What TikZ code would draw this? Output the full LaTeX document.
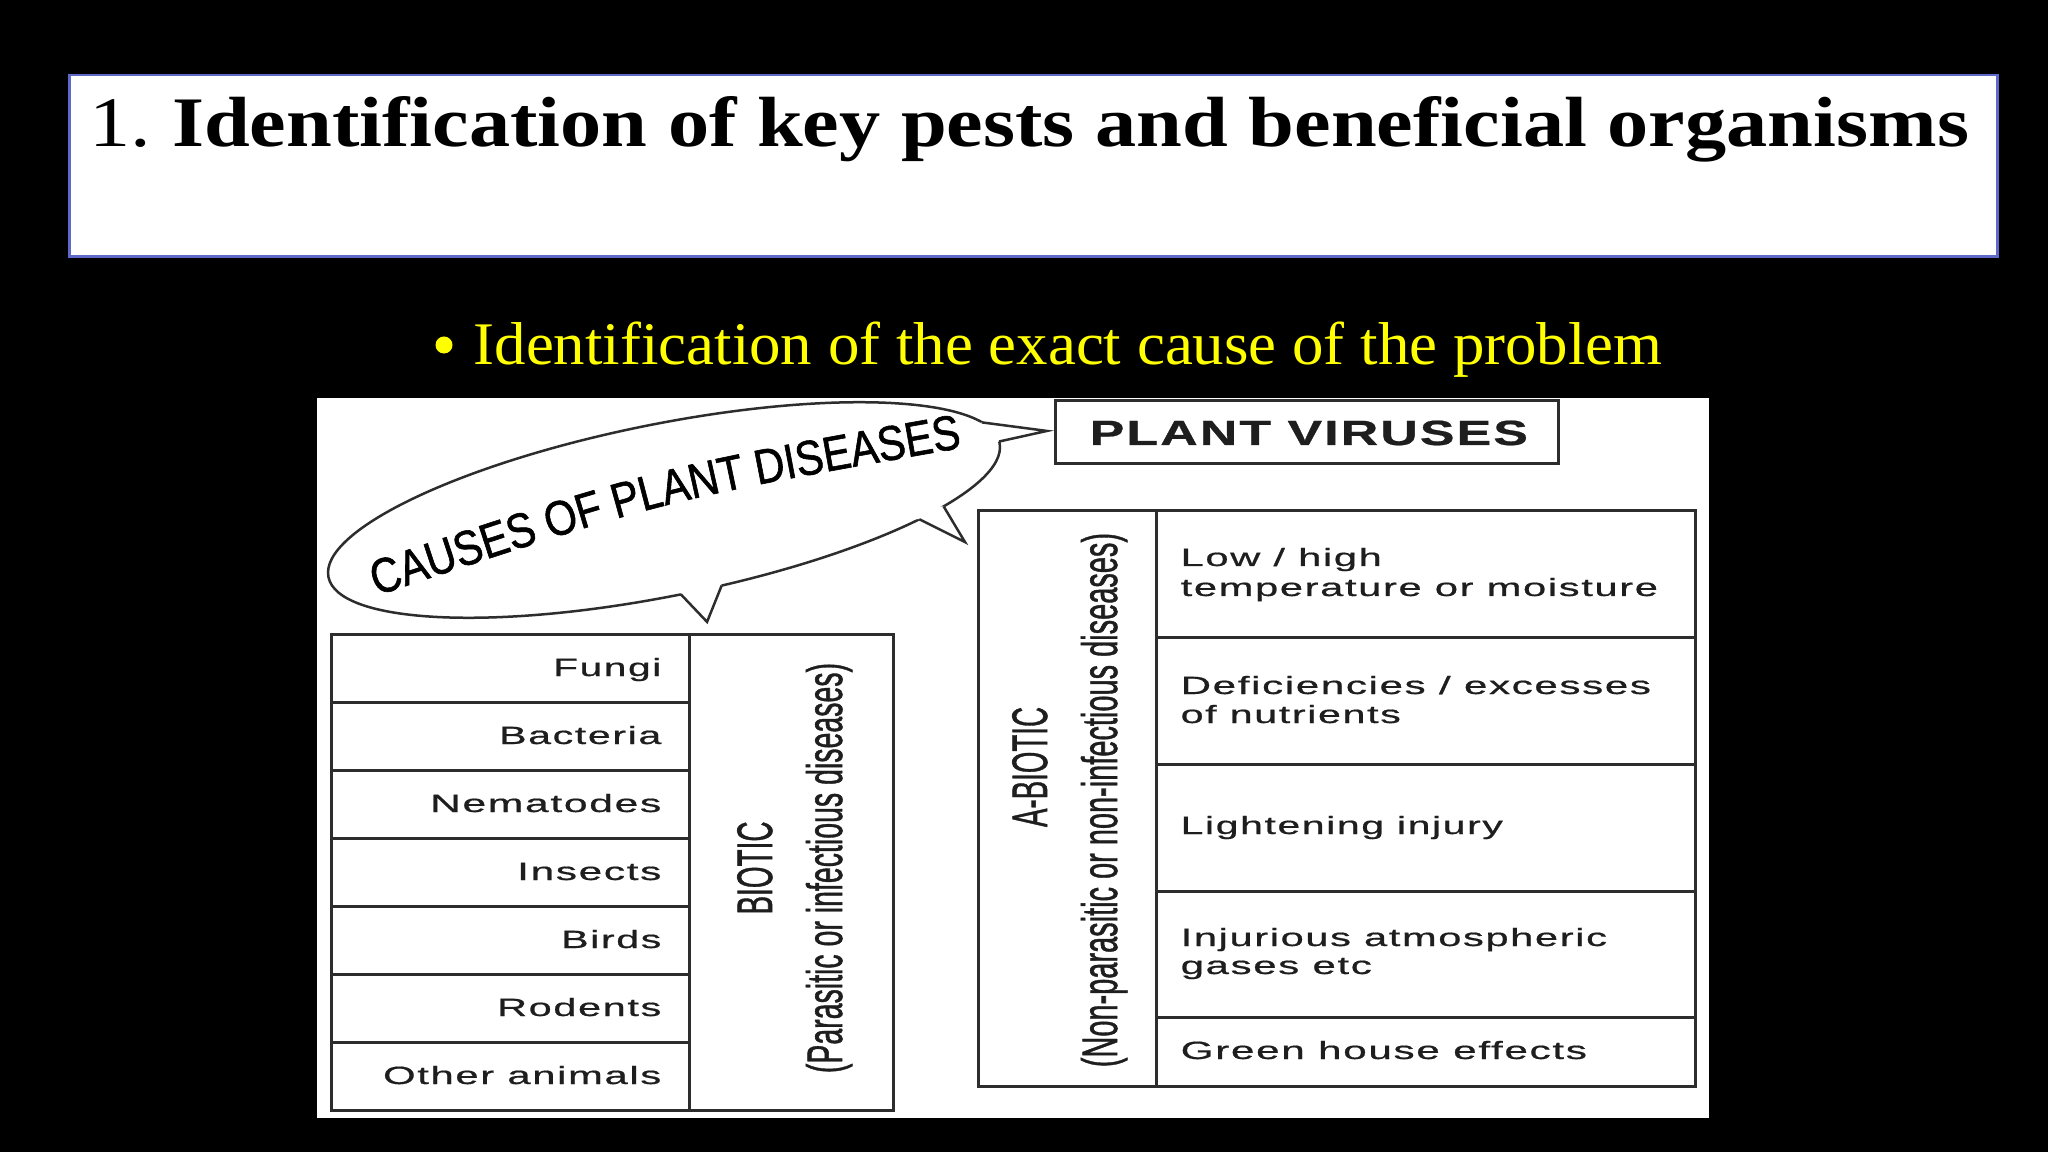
\documentclass[tikz,border=0pt]{standalone}
\usepackage{fontspec}
\usepackage{graphicx}
\setmainfont{Liberation Serif}
\newfontfamily\arialf{Liberation Sans}[FakeBold=1.2]
\newfontfamily\ellf{Liberation Sans}[FakeStretch=0.85, FakeBold=1.2]
\newfontfamily\widef{Liberation Sans}[LetterSpace=4, FakeBold=0.6]
\usetikzlibrary{shapes.geometric,decorations.text}
\definecolor{subyellow}{RGB}{255,255,0}
\definecolor{boxblue}{RGB}{95,105,200}
\definecolor{lin}{RGB}{45,45,45}
\definecolor{txt}{RGB}{30,30,30}
\newcommand{\fitw}[2]{\resizebox{#1}{\height}{#2}}
\newcommand{\tabfont}{\widef\fontsize{7.1pt}{8.5pt}\selectfont}
\newcommand{\pvfont}{\widef\bfseries\fontsize{9.96pt}{12pt}\selectfont}
\newcommand{\rotfont}{\arialf\fontsize{14.2pt}{17pt}\selectfont}
\newcommand{\ellfont}{\ellf\fontsize{13.9pt}{16pt}\selectfont}
\begin{document}
\begin{tikzpicture}[x=0.01cm,y=-0.01cm,
  cell/.style={draw=lin, line width=0.028cm, fill=white, inner sep=0, anchor=north west},
  lab/.style={inner sep=0, text=txt},
  tail/.style={draw=lin, line width=0.025cm, line join=miter}]
\fill[black] (0,0) rectangle (2048,1152);
\useasboundingbox (0,0) rectangle (2048,1152);

% title
\node[draw=boxblue, line width=0.025cm, fill=white, inner sep=0, minimum width=19.27cm, minimum height=1.81cm, anchor=north west] (titlebox) at (68,74) {};
\node[inner sep=0, anchor=base west, text=black] (title) at (89,147) {\fitw{18.78cm}{\fontsize{20.2pt}{24pt}\selectfont 1.\kern0.25em\textbf{Identification of key pests and beneficial organisms}}};

% subtitle
\node[circle, fill=subyellow, minimum size=0.17cm, inner sep=0] (bullet) at (444,345) {};
\node[inner sep=0, anchor=base west, text=subyellow] (sub) at (473,365) {\fitw{11.88cm}{\fontsize{17.2pt}{20pt}\selectfont Identification of the exact cause of the problem}};

% panel
\node[fill=white, inner sep=0, minimum width=13.91cm, minimum height=7.20cm, anchor=north west] (panel) at (316,397) {};

% left table
\foreach \i/\t/\w in {0/Fungi/1.08cm, 1/Bacteria/1.62cm, 2/Nematodes/2.31cm, 3/Insects/1.44cm, 4/Birds/1.00cm, 5/Rodents/1.64cm, 6/Other animals/2.78cm}{
  \node[cell, minimum width=3.58cm, minimum height=0.68cm] (lc\i) at (330,{633+68*\i}) {};
  \node[lab, anchor=base east] (lt\i) at (662,{633+68*\i+43}) {\tabfont\fitw{\w}{\t}};
}
\node[cell, minimum width=2.04cm, minimum height=4.76cm] (bcol) at (688,633) {};
\node[lab, rotate=90, anchor=base] (biotic) at (772,868) {\rotfont\fitw{0.93cm}{BIOTIC}};
\node[lab, rotate=90, anchor=base] (bioticsub) at (842,868) {\rotfont\fitw{4.10cm}{(Parasitic or infectious diseases)}};

% right table
\node[cell, minimum width=1.78cm, minimum height=5.76cm] (acol) at (977,509) {};
\node[lab, rotate=90, anchor=base] (abiotic) at (1047,767) {\rotfont\fitw{1.20cm}{A-BIOTIC}};
\node[lab, rotate=90, anchor=base] (abioticsub) at (1117,800) {\rotfont\fitw{5.34cm}{(Non-parasitic or non-infectious diseases)}};
\node[cell, minimum width=5.39cm, minimum height=1.27cm] (rc1) at (1155,509) {};
\node[cell, minimum width=5.39cm, minimum height=1.27cm] (rc2) at (1155,636) {};
\node[cell, minimum width=5.39cm, minimum height=1.27cm] (rc3) at (1155,763) {};
\node[cell, minimum width=5.39cm, minimum height=1.26cm] (rc4) at (1155,890) {};
\node[cell, minimum width=5.39cm, minimum height=0.69cm] (rc5) at (1155,1016) {};
\node[lab, anchor=base west] (r1a) at (1180,566) {\tabfont\fitw{2.01cm}{Low / high}};
\node[lab, anchor=base west] (r1b) at (1180,596) {\tabfont\fitw{4.77cm}{temperature or moisture}};
\node[lab, anchor=base west] (r2a) at (1180,694) {\tabfont\fitw{4.70cm}{Deficiencies / excesses}};
\node[lab, anchor=base west] (r2b) at (1180,723) {\tabfont\fitw{2.20cm}{of nutrients}};
\node[lab, anchor=base west] (r3a) at (1180,834) {\tabfont\fitw{3.22cm}{Lightening injury}};
\node[lab, anchor=base west] (r4a) at (1180,946) {\tabfont\fitw{4.26cm}{Injurious atmospheric}};
\node[lab, anchor=base west] (r4b) at (1180,974) {\tabfont\fitw{1.91cm}{gases etc}};
\node[lab, anchor=base west] (r5a) at (1180,1059) {\tabfont\fitw{4.06cm}{Green house effects}};

% plant viruses
\node[cell, minimum width=5.03cm, minimum height=0.63cm] (pv) at (1054,399) {};
\node[lab, anchor=base west] (pvt) at (1089,445) {\pvfont\fitw{4.38cm}{PLANT VIRUSES}};

% callout ellipse
\node[draw=lin, line width=0.025cm, fill=white, ellipse, minimum width=6.84cm, minimum height=1.72cm, inner sep=0, rotate=11.3] (ell) at (664,510) {};
\begin{scope}[shift={(664,510)}, rotate=11.3]
  \coordinate (ra) at (328.7,-23.7); \coordinate (rb) at (342,-1.5); \coordinate (rt) at (391,-2.5);
  \coordinate (rai) at (316,-21); \coordinate (rbi) at (328,-1.5);
  \coordinate (ma) at (274.9,51.2); \coordinate (mb) at (248.6,59.1); \coordinate (mt) at (288.9,90.4);
  \coordinate (mai) at (261,48.6); \coordinate (mbi) at (236,56);
  \coordinate (ba) at (41.7,85.4); \coordinate (bb) at (0,86); \coordinate (bt) at (20.3,118.2);
  \coordinate (bai) at (40,78); \coordinate (bbi) at (0,78);
\end{scope}
\fill[white] (ra) -- (rt) -- (rb) -- (rbi) -- (rai) -- cycle;
\draw[tail] (ra) -- (rt) -- (rb);
\fill[white] (ma) -- (mt) -- (mb) -- (mbi) -- (mai) -- cycle;
\draw[tail] (ma) -- (mt) -- (mb);
\fill[white] (ba) -- (bt) -- (bb) -- (bbi) -- (bai) -- cycle;
\draw[tail] (ba) -- (bt) -- (bb);

\coordinate (ts) at (373,597);
\coordinate (tc) at (664,500);
\coordinate (te) at (966,447);
\path[decorate, decoration={text along path, text={|\ellfont|CAUSES OF PLANT DISEASES}, text align=center}] (ts) .. controls (tc) .. (te);
\end{tikzpicture}
\end{document}
